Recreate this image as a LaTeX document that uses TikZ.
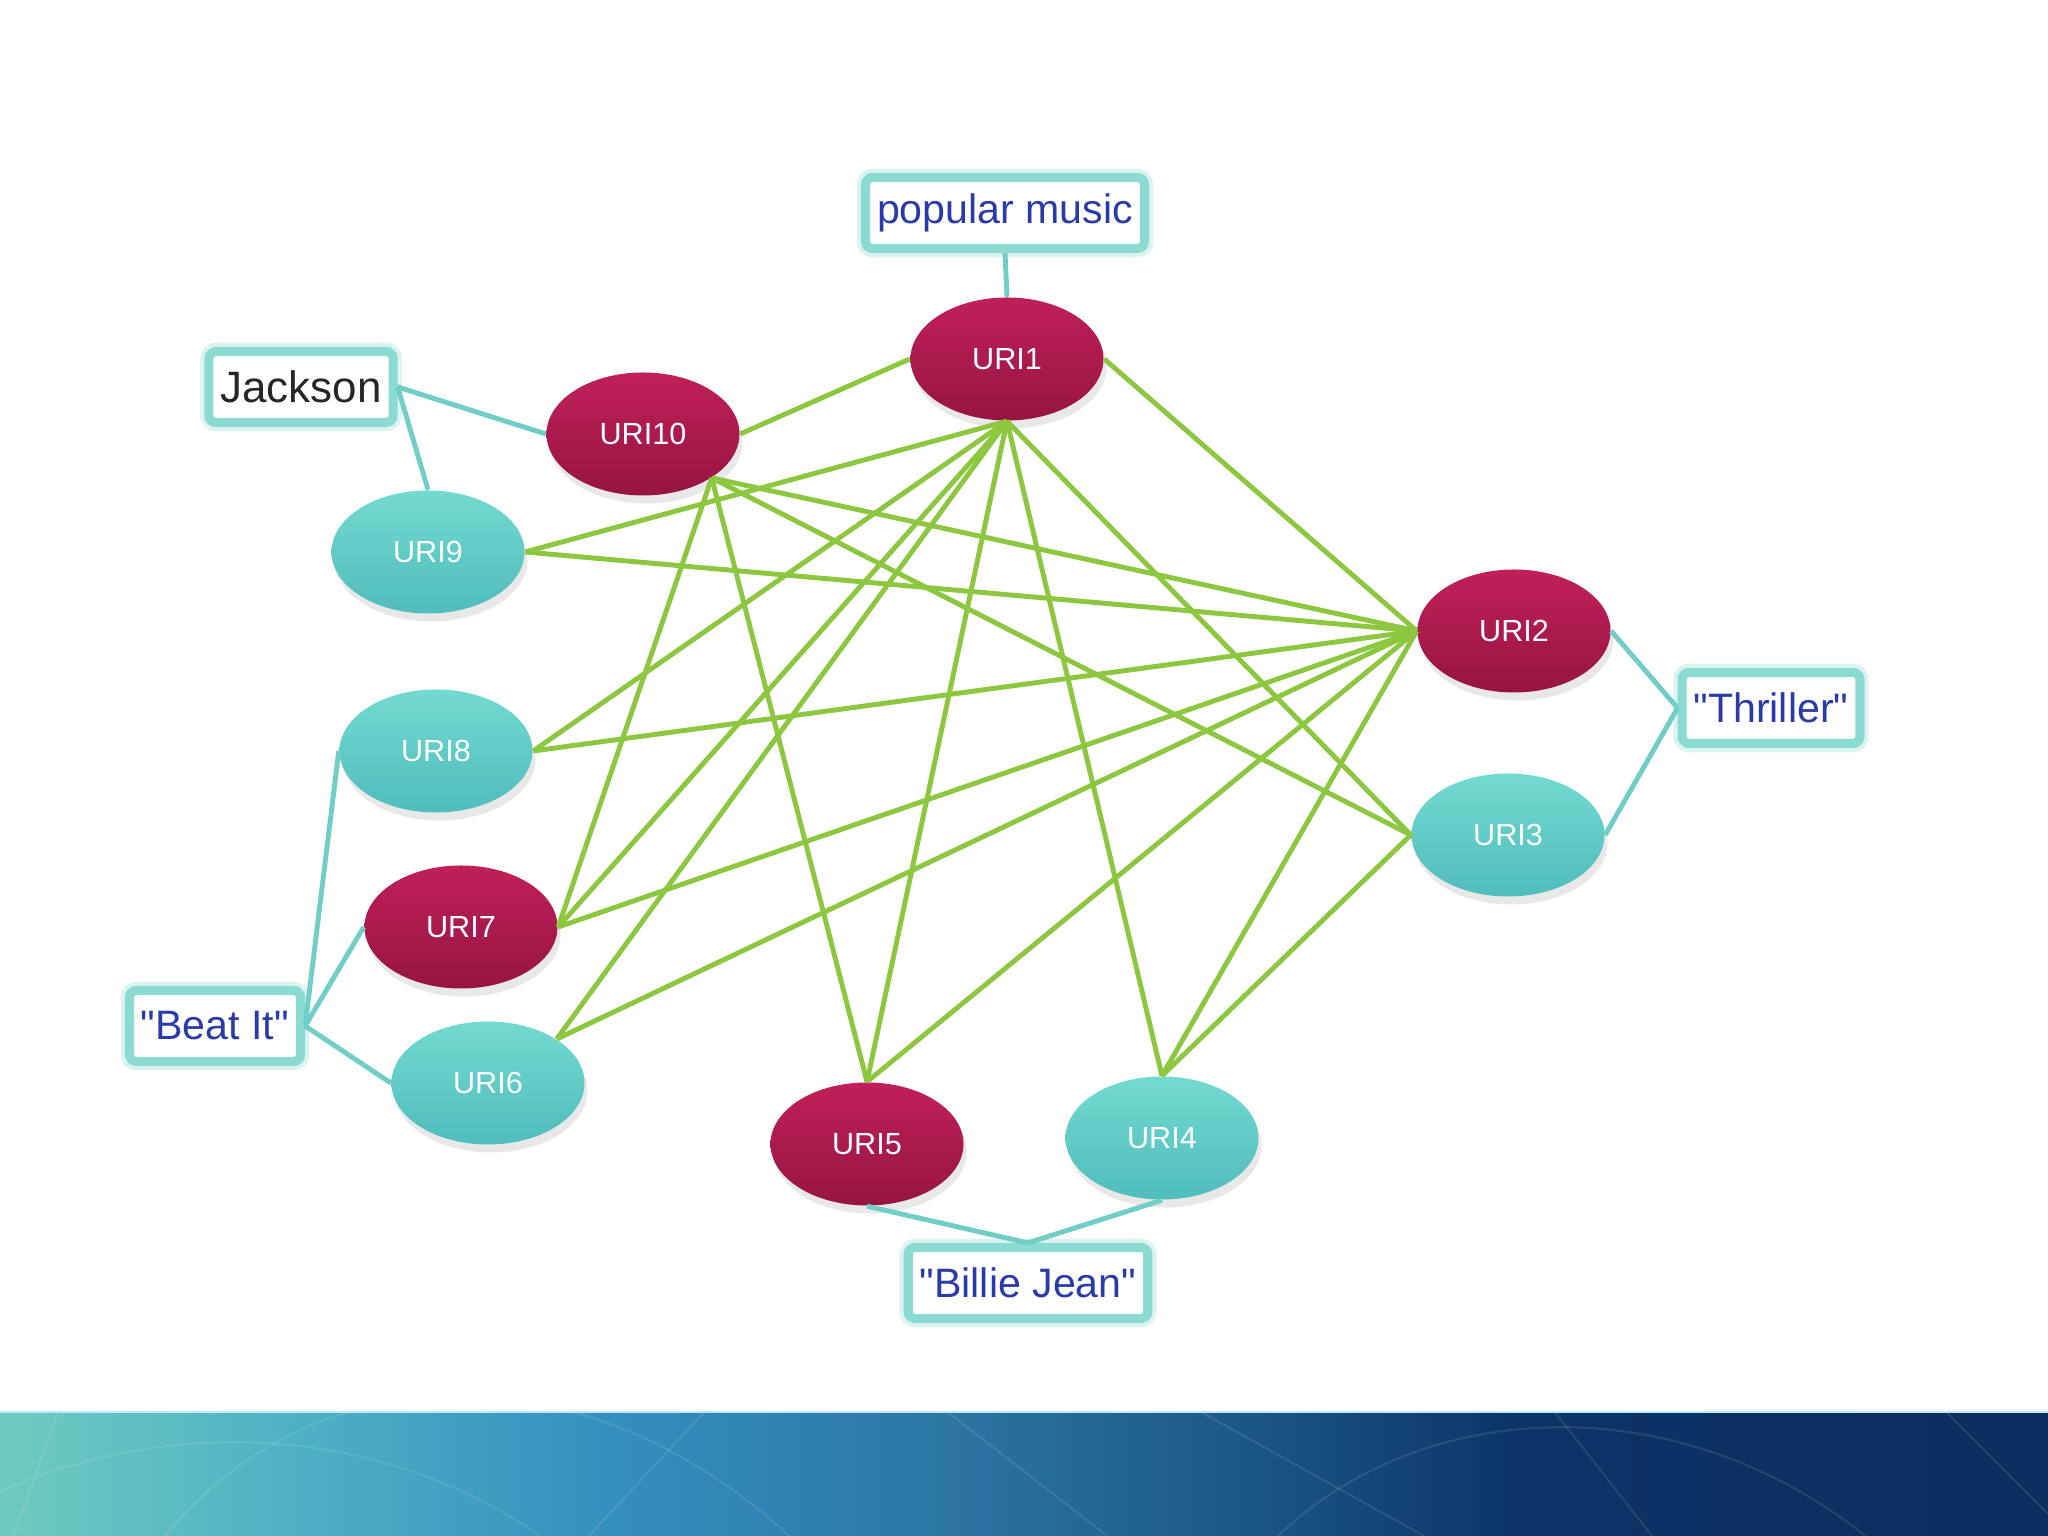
\documentclass[tikz,border=0pt]{standalone}
\usepackage{fontspec}
\setmainfont{Liberation Sans}
\usepackage{xcolor}
\usepackage{tikz}
\usetikzlibrary{shapes.geometric,shadows}
\definecolor{crimsontop}{RGB}{192,32,90}
\definecolor{crimsonbot}{RGB}{150,20,66}
\definecolor{aquatop}{RGB}{114,218,208}
\definecolor{aquabot}{RGB}{80,188,188}
\definecolor{leaf}{RGB}{141,198,63}
\definecolor{glow}{RGB}{140,219,210}
\definecolor{linkteal}{RGB}{112,206,198}
\definecolor{labelblue}{RGB}{42,58,168}
\definecolor{labeldark}{RGB}{38,38,38}
\definecolor{bannerA}{RGB}{112,202,192}
\definecolor{bannerB}{RGB}{78,178,196}
\definecolor{bannerC}{RGB}{52,142,190}
\definecolor{bannerD}{RGB}{44,118,164}
\definecolor{bannerE}{RGB}{28,88,138}
\definecolor{bannerF}{RGB}{12,52,102}
\definecolor{bannerG}{RGB}{10,45,95}
\pgfdeclarehorizontalshading{banner}{100bp}{color(0bp)=(bannerA); color(25bp)=(bannerA); color(32bp)=(bannerB); color(40bp)=(bannerC); color(48bp)=(bannerD); color(55bp)=(bannerE); color(62bp)=(bannerF); color(75bp)=(bannerG); color(100bp)=(bannerG)}
\tikzset{
    uri/.style={ellipse, minimum width=1.93cm, minimum height=1.23cm, inner sep=0pt, text=white, font=\fontsize{8.7}{10}\selectfont, drop shadow={shadow xshift=0.3mm, shadow yshift=-0.8mm, opacity=0.18}},
    hot/.style={uri, top color=crimsontop, bottom color=crimsonbot},
    cool/.style={uri, top color=aquatop, bottom color=aquabot},
    lit/.style={draw=glow, fill=white, line width=2.6pt, rounded corners=2pt, inner xsep=1.15mm, inner ysep=0pt, minimum height=0.71cm, text=labelblue, font=\fontsize{11.7}{13}\selectfont,
        preaction={draw=glow, line width=5pt, draw opacity=0.3}},
    link/.style={draw=leaf, line width=1.4pt},
    tie/.style={draw=linkteal, line width=1.4pt},
    streak/.style={draw=white, line width=0.6pt, opacity=0.1}
}
\begin{document}
\begin{tikzpicture}
\useasboundingbox (0,0) rectangle (20.48,15.36);
\fill[white] (0,0) rectangle (20.48,15.36);
\shade[shading=banner] (0,0) rectangle (20.48,1.24);
\begin{scope}
\clip (0,0) rectangle (20.48,1.24);
\draw[streak] (-0.5,0.2) .. controls (1.5,1.3) and (4,1.2) .. (5.8,-0.3);
\draw[streak] (1.5,-0.2) .. controls (3,1.9) and (6,2) .. (8.2,-0.3);
\draw[streak] (12.5,-0.3) .. controls (14,1.5) and (17,1.6) .. (19,-0.3);
\draw[streak] (9.4,1.3) -- (11.2,-0.1);
\draw[streak] (11.9,1.3) -- (14.6,-0.2);
\draw[streak] (15.5,1.3) -- (16.6,-0.1);
\draw[streak] (19.4,1.3) -- (20.6,0.1);
\draw[streak] (0.6,1.3) -- (0.1,-0.1);
\draw[streak] (7.1,1.3) -- (5.7,-0.2);
\end{scope}
\draw[white!75!cyan, line width=0.6pt] (0,1.24) -- (20.48,1.24);
\node[lit] (pop) at (10.05,13.23) {popular music};
\node[lit, text=labeldark, font=\fontsize{12.5}{14}\selectfont] (jack) at (3.01,11.49) {Jackson};
\node[lit] (beat) at (2.15,5.10) {\textquotedbl Beat It\textquotedbl};
\node[lit] (billie) at (10.28,2.53) {\textquotedbl Billie Jean\textquotedbl};
\node[lit] (thriller) at (17.71,8.28) {\textquotedbl Thriller\textquotedbl};
\node[hot] (u1) at (10.07,11.77) {URI1};
\node[hot] (u2) at (15.14,9.05) {URI2};
\node[cool] (u3) at (15.08,7.01) {URI3};
\node[cool] (u4) at (11.62,3.98) {URI4};
\node[hot] (u5) at (8.67,3.92) {URI5};
\node[cool] (u6) at (4.88,4.53) {URI6};
\node[hot] (u7) at (4.61,6.09) {URI7};
\node[cool] (u8) at (4.36,7.85) {URI8};
\node[cool] (u9) at (4.28,9.84) {URI9};
\node[hot] (u10) at (6.43,11.02) {URI10};
\draw[link] (u1.west) -- (u10.east);
\draw[link] (u1.east) -- (u2.west);
\draw[link] (u1.south) -- (u9.east);
\draw[link] (u1.south) -- (u8.east);
\draw[link] (u1.south) -- (u7.east);
\draw[link] (u1.south) -- (u6.north east);
\draw[link] (u1.south) -- (u5.north);
\draw[link] (u1.south) -- (u4.north);
\draw[link] (u1.south) -- (u3.west);
\draw[link] (u10.south east) -- (u2.west);
\draw[link] (u10.south east) -- (u3.west);
\draw[link] (u10.south east) -- (u5.north);
\draw[link] (u10.south east) -- (u7.east);
\draw[link] (u2.west) -- (u9.east);
\draw[link] (u2.west) -- (u8.east);
\draw[link] (u2.west) -- (u7.east);
\draw[link] (u2.west) -- (u6.north east);
\draw[link] (u2.west) -- (u5.north);
\draw[link] (u2.west) -- (u4.north);
\draw[link] (u3.west) -- (u4.north);
\draw[tie] (pop.south) -- (u1.north);
\draw[tie] (jack.east) -- (u10.west);
\draw[tie] (jack.east) -- (u9.north);
\draw[tie] (beat.east) -- (u8.west);
\draw[tie] (beat.east) -- (u7.west);
\draw[tie] (beat.east) -- (u6.west);
\draw[tie] (billie.north) -- (u5.south);
\draw[tie] (billie.north) -- (u4.south);
\draw[tie] (thriller.west) -- (u2.east);
\draw[tie] (thriller.west) -- (u3.east);
\end{tikzpicture}
\end{document}
